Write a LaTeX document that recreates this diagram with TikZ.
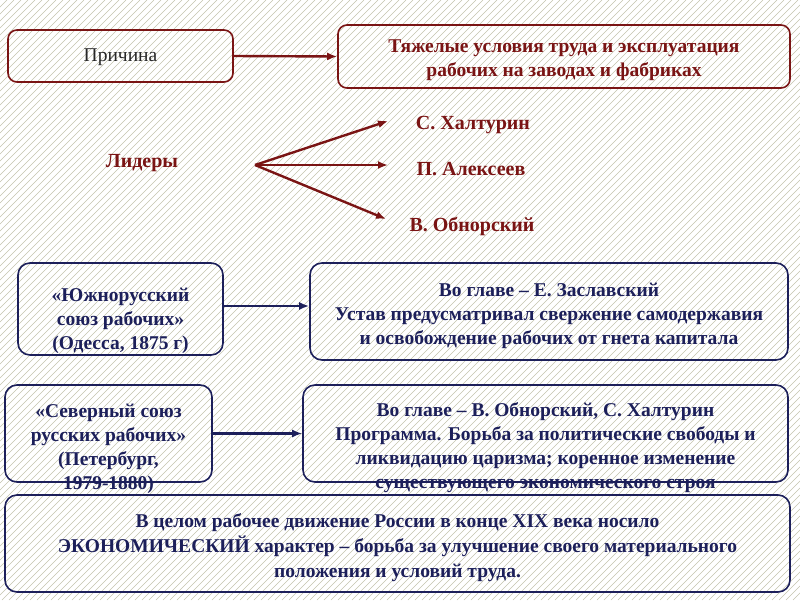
\documentclass[tikz,border=0pt]{standalone}
\usepackage{fontspec}
\setmainfont{Liberation Serif}
\usetikzlibrary{arrows.meta}
\definecolor{dred}{HTML}{7A1414}
\definecolor{navy}{HTML}{1C1F5A}
\definecolor{hatch}{HTML}{C4C4AE}
\begin{document}
\begin{tikzpicture}[x=1pt,y=-1pt,
  rbox/.style={draw=dred,line width=1.6pt,rounded corners=9pt},
  nbox/.style={draw=navy,line width=1.6pt,rounded corners=12pt},
  rtxt/.style={text=dred,font=\fontsize{19.5}{24}\selectfont\bfseries,align=center},
  ntxt/.style={text=navy,font=\fontsize{19.5}{24}\selectfont\bfseries,align=center},
  rarr/.style={draw=dred,line width=2.4pt,-{Latex[length=10pt,width=8pt]}},
  narr/.style={draw=navy,line width=2.4pt,-{Latex[length=10pt,width=8pt]}},
  lbl/.style={text=dred,font=\fontsize{20}{24}\selectfont\bfseries}]
\useasboundingbox (0,0) rectangle (800,600);
\fill[white] (0,0) rectangle (800,600);
\begin{scope}
\clip (0,0) rectangle (800,600);
\foreach \i in {0,7,...,1400} {\draw[hatch,line width=0.6pt] (\i-600,600) -- (\i,0);}
\end{scope}
\node[rbox,minimum width=225pt,minimum height=52pt] (p) at (120.5,56) {};
\node[font=\fontsize{19.5}{24}\selectfont,text=black!85] (pt) at (120.5,57) {Причина};
\node[rbox,minimum width=452pt,minimum height=63pt] (t) at (564,56.5) {};
\node[rtxt] (tt) at (564,60) {Тяжелые условия труда и эксплуатация\\рабочих на заводах и фабриках};
\draw[rarr] (p.east) -- (t.west);
\node[lbl] (l) at (142,163) {Лидеры};
\coordinate (o) at (255,165);
\node[lbl] (h) at (473,125) {С. Халтурин};
\node[lbl] (a) at (471,169) {П. Алексеев};
\node[lbl] (b) at (472,226) {В. Обнорский};
\draw[rarr] (o) -- (388,121);
\draw[rarr] (o) -- (388,165);
\draw[rarr] (o) -- (386,219);
\node[nbox,minimum width=205pt,minimum height=92pt] (s1) at (120.5,309) {};
\node[ntxt] (s1t) at (120.5,321) {«Южнорусский\\союз рабочих»\\(Одесса, 1875 г)};
\node[nbox,minimum width=478pt,minimum height=97pt] (d1) at (549,311.5) {};
\node[ntxt] (d1t) at (549,316) {Во главе – Е. Заславский\\Устав предусматривал свержение самодержавия\\и освобождение рабочих от гнета капитала};
\draw[narr] (s1.east |- 0,306) -- (d1.west |- 0,306);
\node[nbox,minimum width=207pt,minimum height=97pt] (s2) at (108.5,433.5) {};
\node[ntxt] (s2t) at (108.5,449) {«Северный союз\\русских рабочих»\\(Петербург,\\1979-1880)};
\node[nbox,minimum width=485pt,minimum height=97pt] (d2) at (545.5,433.5) {};
\node[ntxt] (d2t) at (545.5,448) {Во главе – В. Обнорский, С. Халтурин\\Программа. Борьба за политические свободы и\\ликвидацию царизма; коренное изменение\\существующего экономического строя};
\draw[narr] (s2.east) -- (d2.west);
\node[nbox,minimum width=785pt,minimum height=97pt] (c) at (397.5,543.5) {};
\node[ntxt,font=\fontsize{19.5}{25}\selectfont\bfseries] (ct) at (397.5,548) {В целом рабочее движение России в конце XIX века носило\\ЭКОНОМИЧЕСКИЙ характер – борьба за улучшение своего материального\\положения и условий труда.};
\end{tikzpicture}
\end{document}
